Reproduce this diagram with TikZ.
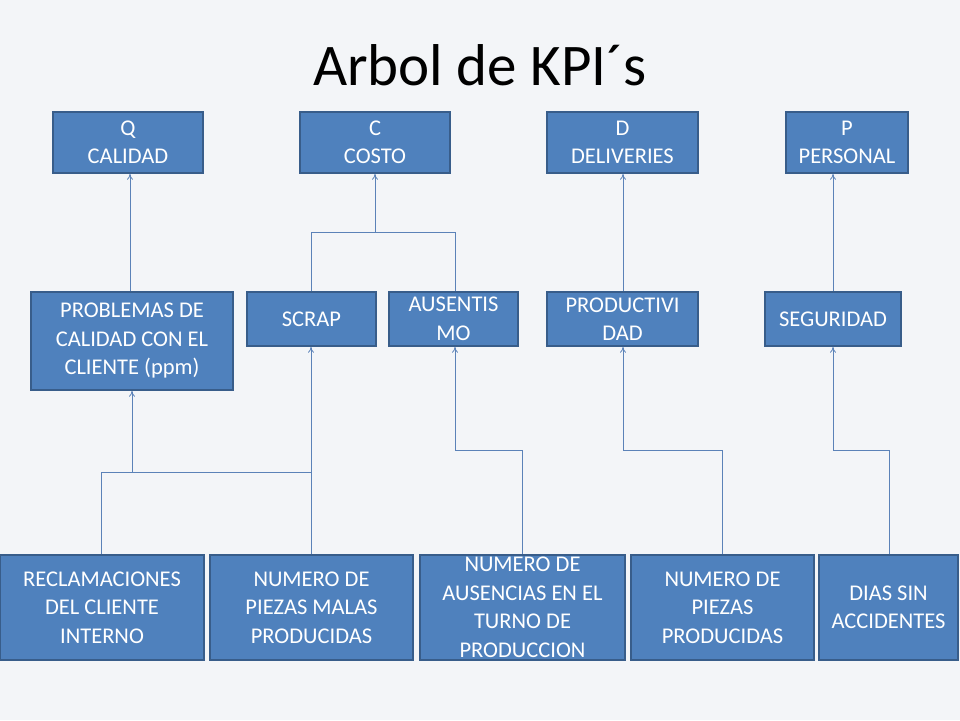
\documentclass[tikz,border=0pt]{standalone}
\usepackage{fontspec}
\setmainfont{Carlito}
\usetikzlibrary{arrows.meta}
\definecolor{boxfill}{HTML}{4F81BD}
\definecolor{boxline}{HTML}{385D8A}
\definecolor{conn}{HTML}{5B82B8}
\definecolor{bg}{HTML}{F3F5F8}
\tikzset{
 kbox/.style={draw=boxline,line width=1.5pt,fill=boxfill,text=white,align=center,font=\fontsize{22.5}{28.5}\selectfont,inner sep=0pt},
 conn/.style={draw=conn,line width=0.8pt},
 arr/.style={conn,-{To[length=6pt,width=6pt]}}
}
\newcommand{\kb}[6]{\node[kbox,minimum width=#4-#2,minimum height=#5-#3] (#1) at ({(#2+#4)/2},{(#3+#5)/2}) {#6};}
\begin{document}
\begin{tikzpicture}[x=1pt,y=-1pt]
\fill[bg] (0,0) rectangle (960,720);
\useasboundingbox (0,0) rectangle (960,720);
\node (title) at (480,65) {\fontsize{59}{62}\selectfont Arbol de KPI´s};
\kb{q}{53}{112}{203}{173}{Q\\CALIDAD}
\kb{c}{300}{112}{450}{173}{C\\COSTO}
\kb{d}{547}{112}{698}{173}{D\\DELIVERIES}
\kb{p}{786}{112}{908}{173}{P\\PERSONAL}
\kb{pc}{31}{292}{233}{390}{PROBLEMAS DE\\CALIDAD CON EL\\CLIENTE (ppm)}
\kb{sc}{247}{292}{376}{346}{SCRAP}
\kb{au}{389}{292}{518}{346}{AUSENTIS\\MO}
\kb{pr}{547}{292}{698}{346}{PRODUCTIVI\\DAD}
\kb{se}{765}{292}{901}{346}{SEGURIDAD}
\kb{b1}{0}{555}{204}{660}{RECLAMACIONES\\DEL CLIENTE\\INTERNO}
\kb{b2}{210}{555}{413}{660}{NUMERO DE\\PIEZAS MALAS\\PRODUCIDAS}
\kb{b3}{420}{555}{625}{660}{NUMERO DE\\AUSENCIAS EN EL\\TURNO DE\\PRODUCCION}
\kb{b4}{631}{555}{814}{660}{NUMERO DE\\PIEZAS\\PRODUCIDAS}
\kb{b5}{819}{555}{958}{660}{DIAS SIN\\ACCIDENTES}
% top level
\draw[arr] (pc.north -| 130,0) -- (q.south -| 130,0);
\draw[conn] (sc.north -| 311,0) -- (311,232) -- (455,232) -- (au.north -| 455,0);
\draw[arr] (375,232) -- (c.south -| 375,0);
\draw[arr] (pr.north -| 623,0) -- (d.south -| 623,0);
\draw[arr] (se.north -| 833,0) -- (p.south -| 833,0);
% bottom level
\draw[conn] (b1.north -| 101,0) -- (101,472) -- (311,472);
\draw[arr] (132,472) -- (pc.south -| 132,0);
\draw[arr] (b2.north -| 311,0) -- (sc.south -| 311,0);
\draw[arr] (b3.north -| 522,0) -- (522,450) -- (455,450) -- (au.south -| 455,0);
\draw[arr] (b4.north -| 722,0) -- (722,450) -- (623,450) -- (pr.south -| 623,0);
\draw[arr] (b5.north -| 889,0) -- (889,450) -- (833,450) -- (se.south -| 833,0);
\end{tikzpicture}
\end{document}
